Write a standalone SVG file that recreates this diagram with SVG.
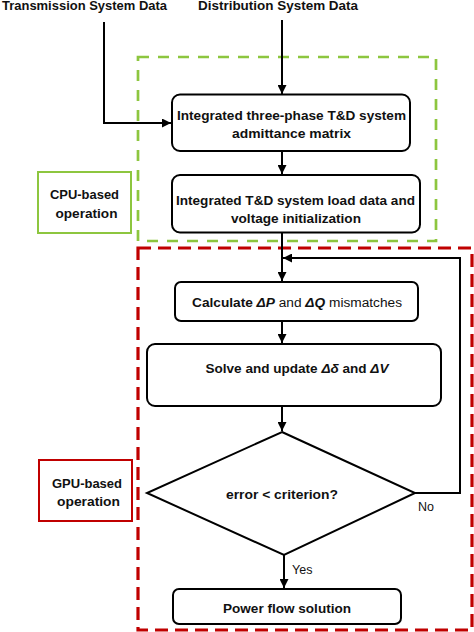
<svg xmlns="http://www.w3.org/2000/svg" width="474" height="632" viewBox="0 0 474 632">
<defs>
<marker id="ah" viewBox="0 0 10 10" refX="10" refY="5" markerWidth="9" markerHeight="9" markerUnits="userSpaceOnUse" orient="auto">
<path d="M0,0 L10,5 L0,10 z" fill="#000"/>
</marker>
<style>
text{font-family:"Liberation Sans",Arial,sans-serif;font-size:12.5px;fill:#111;}
.b{font-weight:bold;}
.n{font-weight:normal;}
.box{fill:#fff;stroke:#000;stroke-width:2;}
.ln{fill:none;stroke:#000;stroke-width:2;}
.grn{fill:none;stroke:#8dc63f;stroke-width:2.7;stroke-dasharray:11 9;}
.red{fill:none;stroke:#c00000;stroke-width:3.2;stroke-dasharray:13 7;}
</style>
</defs>
<rect width="474" height="632" fill="#fff"/>
<g id="regions">
<rect class="grn" x="138" y="57" width="298" height="184"/>
<rect class="red" x="138" y="248" width="334" height="382"/>
</g>
<g id="inputs">
<text class="b" x="2" y="10" textLength="165" lengthAdjust="spacingAndGlyphs">Transmission System Data</text>
<text class="b" x="198" y="10" textLength="160" lengthAdjust="spacingAndGlyphs">Distribution System Data</text>
</g>
<g id="connectors">
<polyline class="ln" points="104,22 104,123 171,123" marker-end="url(#ah)"/>
<line class="ln" x1="282" y1="20" x2="282" y2="94" marker-end="url(#ah)"/>
<line class="ln" x1="282" y1="151" x2="282" y2="174" marker-end="url(#ah)"/>
<line class="ln" x1="282" y1="233" x2="282" y2="281" marker-end="url(#ah)"/>
<polyline class="ln" points="415,493 460,493 460,258 283,258" marker-end="url(#ah)"/>
<line class="ln" x1="282" y1="321" x2="282" y2="343" marker-end="url(#ah)"/>
<line class="ln" x1="282" y1="406" x2="282" y2="431" marker-end="url(#ah)"/>
<line class="ln" x1="284" y1="555" x2="284" y2="588" marker-end="url(#ah)"/>
<text x="292" y="574">Yes</text>
<text x="418" y="511">No</text>
</g>
<g id="n1">
<rect class="box" x="172" y="94.5" width="238" height="56.5" rx="8"/>
<text class="b" x="291.5" y="120" text-anchor="middle" textLength="229" lengthAdjust="spacingAndGlyphs">Integrated three-phase T&amp;D system</text>
<text class="b" x="291.5" y="138" text-anchor="middle" textLength="119" lengthAdjust="spacingAndGlyphs">admittance matrix</text>
</g>
<g id="n2">
<rect class="box" x="172" y="175" width="248" height="57.5" rx="8"/>
<text class="b" x="295.5" y="205" text-anchor="middle" textLength="239" lengthAdjust="spacingAndGlyphs">Integrated T&amp;D system load data and</text>
<text class="b" x="296" y="222.5" text-anchor="middle" textLength="130" lengthAdjust="spacingAndGlyphs">voltage initialization</text>
</g>
<g id="cpu">
<rect x="38" y="172" width="93" height="61" fill="#fff" stroke="#8dc63f" stroke-width="2"/>
<text class="b" x="84.5" y="199" text-anchor="middle" textLength="69" lengthAdjust="spacingAndGlyphs">CPU-based</text>
<text class="b" x="86.5" y="218" text-anchor="middle" textLength="62" lengthAdjust="spacingAndGlyphs">operation</text>
</g>
<g id="n3">
<rect class="box" x="175" y="282" width="243" height="39" rx="6"/>
<text class="b" x="297" y="306.5" text-anchor="middle" textLength="210" lengthAdjust="spacingAndGlyphs">Calculate <tspan font-style="italic">ΔP</tspan><tspan class="n"> and </tspan><tspan font-style="italic">ΔQ</tspan><tspan class="n"> mismatches</tspan></text>
</g>
<g id="n4">
<rect class="box" x="147" y="344" width="294" height="62" rx="8"/>
<text class="b" x="297" y="372.5" text-anchor="middle" textLength="183" lengthAdjust="spacingAndGlyphs">Solve and update <tspan font-style="italic">Δδ</tspan> and <tspan font-style="italic">ΔV</tspan></text>
</g>
<g id="n5">
<polygon class="box" points="282,432 415,493 284,555 147,493" stroke-linejoin="miter"/>
<text class="b" x="282" y="499" text-anchor="middle" textLength="112" lengthAdjust="spacingAndGlyphs">error  &lt; criterion?</text>
</g>
<g id="gpu">
<rect x="39" y="460" width="93" height="61" fill="#fff" stroke="#c00000" stroke-width="2"/>
<text class="b" x="87" y="487.5" text-anchor="middle" textLength="70" lengthAdjust="spacingAndGlyphs">GPU-based</text>
<text class="b" x="88.5" y="506" text-anchor="middle" textLength="63" lengthAdjust="spacingAndGlyphs">operation</text>
</g>
<g id="n6">
<rect class="box" x="173" y="589" width="228" height="35" rx="6"/>
<text class="b" x="287" y="613" text-anchor="middle" textLength="128" lengthAdjust="spacingAndGlyphs">Power flow solution</text>
</g>
</svg>
